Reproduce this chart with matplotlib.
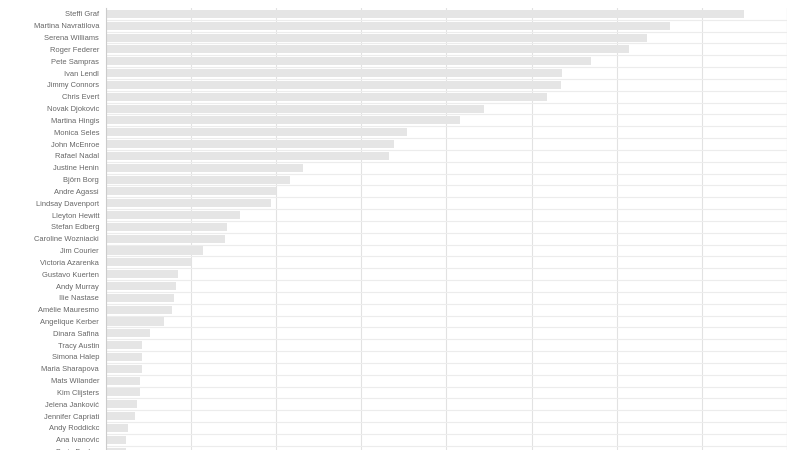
import matplotlib.pyplot as plt
from matplotlib.ticker import MultipleLocator, FixedLocator

# Weeks at No. 1
players = [
    "Steffi Graf", "Martina Navratilova", "Serena Williams", "Roger Federer",
    "Pete Sampras", "Ivan Lendl", "Jimmy Connors", "Chris Evert",
    "Novak Djokovic", "Martina Hingis", "Monica Seles", "John McEnroe",
    "Rafael Nadal", "Justine Henin", "Björn Borg", "Andre Agassi",
    "Lindsay Davenport", "Lleyton Hewitt", "Stefan Edberg", "Caroline Wozniacki",
    "Jim Courier", "Victoria Azarenka", "Gustavo Kuerten", "Andy Murray",
    "Ilie Nastase", "Amélie Mauresmo", "Angelique Kerber", "Dinara Safina",
    "Tracy Austin", "Simona Halep", "Maria Sharapova", "Mats Wilander",
    "Kim Clijsters", "Jelena Janković", "Jennifer Capriati", "Andy Roddickc",
    "Ana Ivanovic", "Boris Becker",
]
weeks = [
    375, 331, 318, 307, 285, 268, 267, 259,
    222, 208, 177, 169, 166, 116, 108, 100,
    97, 79, 71, 70, 57, 50, 42, 41,
    40, 39, 34, 26, 21, 21, 21, 20,
    20, 18, 17, 13, 12, 12,
]

fig = plt.figure(figsize=(8, 4.5), dpi=100)
plt.rcParams['font.family'] = ['Liberation Sans', 'DejaVu Sans']

# axes runs past the bottom of the figure, so the last rows get cut off
row_px = 11.83
n = len(players)
top_px = 8
height_px = n * row_px
ax = fig.add_axes([106 / 800, (450 - top_px - height_px) / 450,
                   (787 - 106) / 800, height_px / 450])

pos = list(range(n))
ax.barh(pos, weeks, height=0.68, color="#e5e5e5", zorder=2)

ax.set_xlim(0, 400)
ax.set_ylim(n - 0.5, -0.5)
ax.xaxis.set_major_locator(MultipleLocator(50))
ax.set_yticks(pos)
ax.set_yticklabels(players, fontsize=5.4, color="#666666")
ax.yaxis.set_minor_locator(FixedLocator([p + 0.5 for p in pos]))
ax.tick_params(axis="both", which="both", length=0)
ax.tick_params(axis="y", pad=5)
ax.set_xticklabels([])

ax.grid(axis="x", which="major", color="#e2e2e2", linewidth=0.8, zorder=0)
ax.grid(axis="y", which="minor", color="#ececec", linewidth=0.8, zorder=0)

for side in ["top", "right", "bottom"]:
    ax.spines[side].set_visible(False)
ax.spines["left"].set_color("#cccccc")
ax.spines["left"].set_linewidth(0.8)
ax.axvline(400, color="#e2e2e2", linewidth=0.8, zorder=0)

fig.savefig("out.png", dpi=100)
